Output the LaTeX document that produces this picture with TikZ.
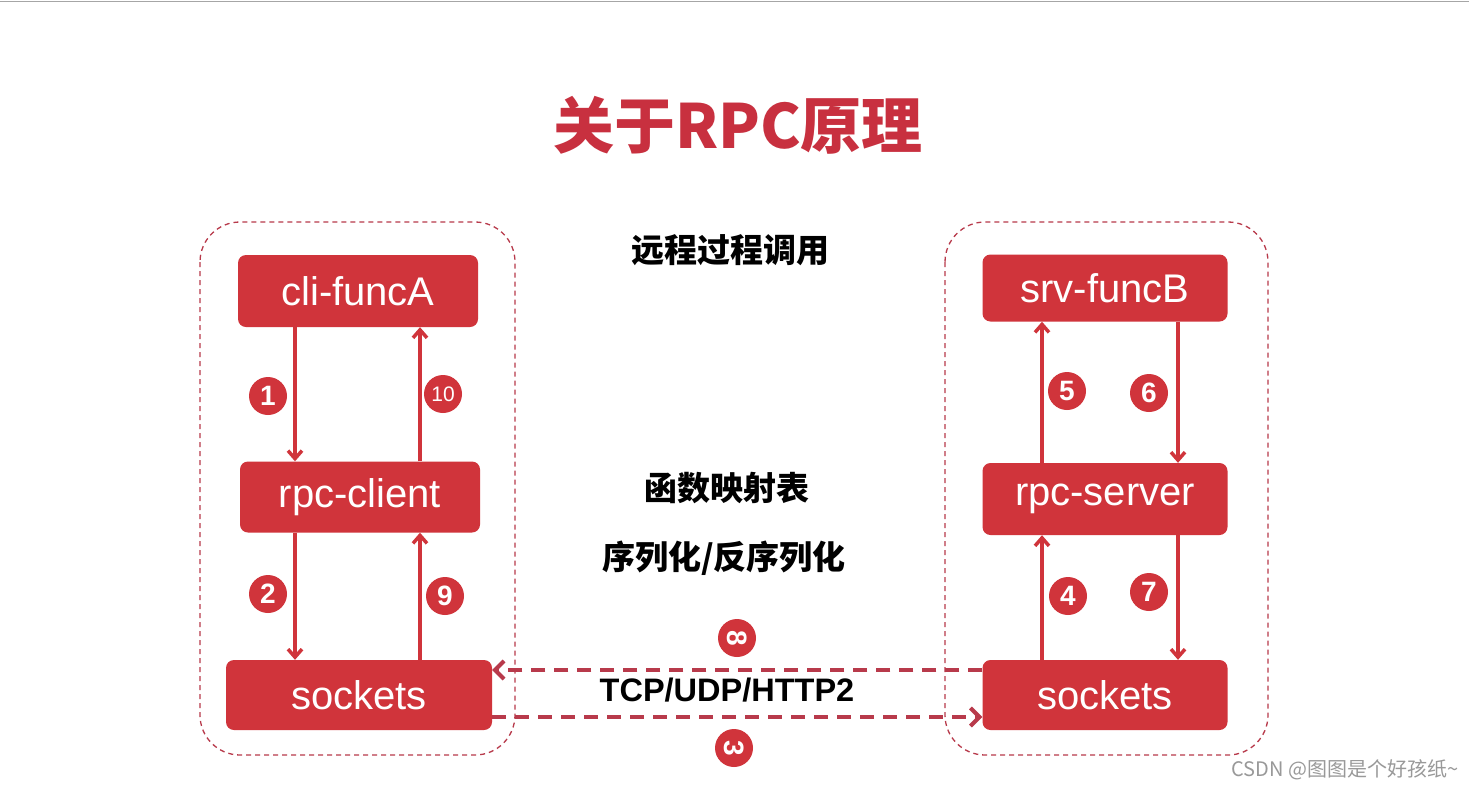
\documentclass[tikz,border=0pt]{standalone}
\usepackage{fontspec}
\setmainfont{Liberation Sans}
\newfontfamily\cjk{Noto Sans CJK SC}
\usetikzlibrary{arrows.meta}
\definecolor{boxred}{HTML}{D0343B}
\definecolor{dashred}{HTML}{B83A4B}
\definecolor{titlered}{HTML}{C8303F}
\begin{document}
\begin{tikzpicture}[x=1pt,y=-1pt,
  box/.style={fill=boxred,rounded corners=8pt,text=white,font=\fontsize{40}{40}\selectfont},
  grp/.style={draw=dashred,dash pattern=on 5pt off 4pt,rounded corners=40pt,line width=1.3pt},
  arr/.style={draw=boxred,line width=3.5pt,-{Straight Barb[length=8pt,width=14pt]}},
  darr/.style={draw=dashred,line width=4pt,dash pattern=on 14pt off 9pt,-{Straight Barb[length=9pt,width=18pt]}},
  num/.style={circle,fill=boxred,minimum size=38pt,inner sep=0pt,text=white,font=\bfseries\fontsize{28}{28}\selectfont},
  lbl/.style={font=\cjk\bfseries\fontsize{33}{33}\selectfont}]
\useasboundingbox (0,0) rectangle (1469,790);
\fill[white] (0,0) rectangle (1469,790);
\draw[gray!70,line width=1pt] (0,1) -- (1469,1);
\node[text=titlered,font=\cjk\bfseries\fontsize{61}{61}\selectfont] (title) at (738,125) {关于RPC原理};
\draw[grp] (200,222) rectangle (515,755);
\draw[grp] (945,222) rectangle (1268,755);
\node[box,minimum width=240pt,minimum height=72pt] (ca) at (358,291) {cli-funcA};
\node[box,minimum width=240pt,minimum height=71pt] (rc) at (360,497) {rpc-client};
\node[box,minimum width=266pt,minimum height=70pt] (ls) at (359,695) {sockets};
\node[box,minimum width=245pt,minimum height=67pt] (sb) at (1105,288) {srv-funcB};
\node[box,minimum width=245pt,minimum height=72pt] (rs) at (1105,499) {rpc-server};
\node[box,minimum width=245pt,minimum height=70pt] (rsk) at (1105,695) {sockets};
\draw[arr] (ca.south -| 295,0) -- (rc.north -| 295,0);
\draw[arr] (rc.north -| 420,0) -- (ca.south -| 420,0);
\draw[arr] (rc.south -| 295,0) -- (ls.north -| 295,0);
\draw[arr] (ls.north -| 420,0) -- (rc.south -| 420,0);
\draw[arr] (rs.north -| 1042,0) -- (sb.south -| 1042,0);
\draw[arr] (sb.south -| 1178,0) -- (rs.north -| 1178,0);
\draw[arr] (rsk.north -| 1042,0) -- (rs.south -| 1042,0);
\draw[arr] (rs.south -| 1178,0) -- (rsk.north -| 1178,0);
\draw[darr] (rsk.west |- 0,670) -- (ls.east |- 0,670);
\draw[darr] (ls.east |- 0,717) -- (rsk.west |- 0,717);
\node[num] (n1) at (268,396) {1};
\node[num,font=\fontsize{21}{21}\selectfont] (n10) at (443,394) {10};
\node[num] (n2) at (268,594) {2};
\node[num] (n9) at (445,596) {9};
\node[num] (n5) at (1067,391) {5};
\node[num] (n6) at (1149,393) {6};
\node[num] (n4) at (1068,596) {4};
\node[num] (n7) at (1149,592) {7};
\node[num,rotate=-90] (n8) at (737,638) {8};
\node[num,rotate=-90] (n3) at (734,748) {3};
\node[lbl] (t1) at (730,250) {远程过程调用};
\node[lbl] (t2) at (727,488) {函数映射表};
\node[lbl] (t3) at (724,558) {序列化/反序列化};
\node[font=\bfseries\fontsize{32.5}{32.5}\selectfont] (t4) at (727,690) {TCP/UDP/HTTP2};
\node[text=gray!80,font=\cjk\fontsize{20}{20}\selectfont] (wm) at (1345,770) {CSDN @图图是个好孩纸\textasciitilde};
\end{tikzpicture}
\end{document}
